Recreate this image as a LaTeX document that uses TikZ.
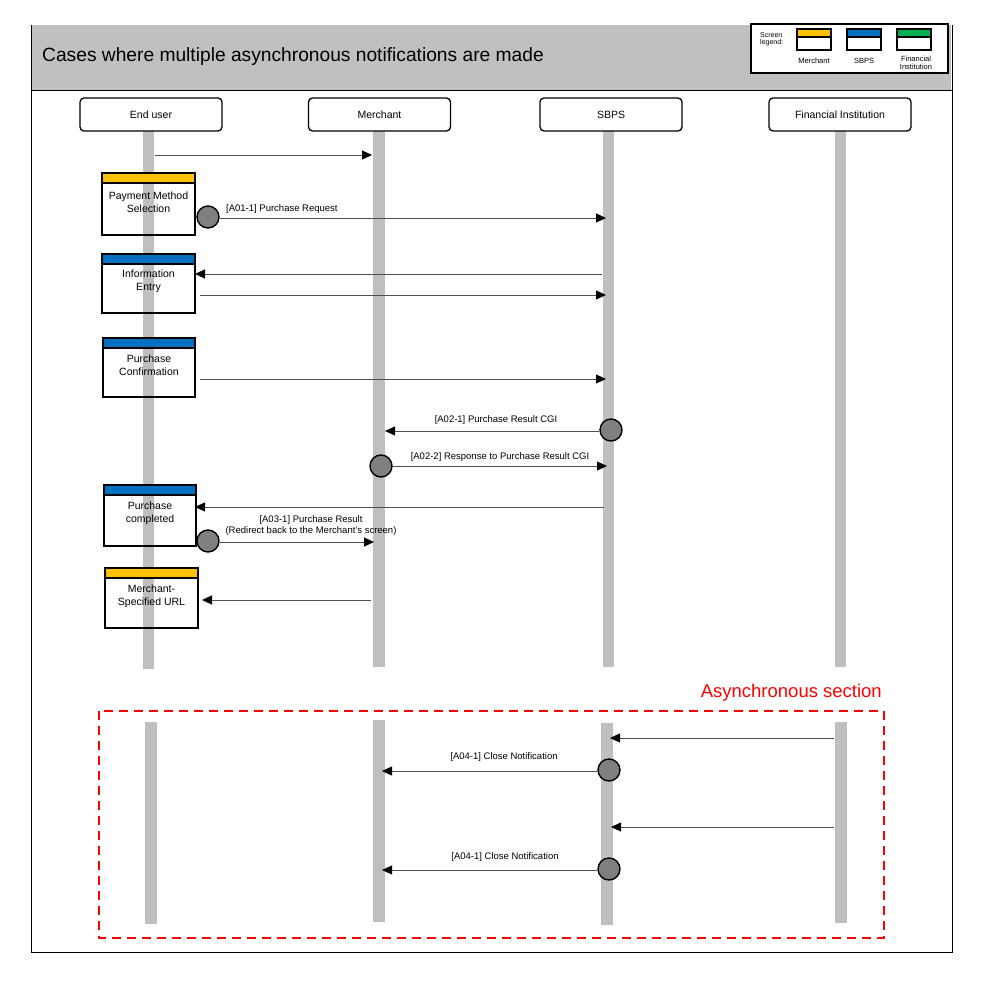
\documentclass[tikz,border=0pt]{standalone}
\usepackage{fontspec}
\setmainfont{Liberation Sans}
\usetikzlibrary{arrows.meta}
\definecolor{lifegray}{HTML}{BFBFBF}
\definecolor{hdrgray}{HTML}{C0C0C0}
\definecolor{dotgray}{HTML}{808080}
\definecolor{ylw}{HTML}{FFC000}
\definecolor{blu}{HTML}{0070C0}
\definecolor{grn}{HTML}{00B050}
\definecolor{linegray}{HTML}{505050}
\tikzset{
  actor/.style={draw=black, line width=1.3pt, rounded corners=4pt, fill=white, minimum width=142pt, minimum height=33pt, font=\fontsize{10.5}{12}\selectfont},
  life/.style={fill=lifegray, draw=none},
  screen/.style={draw=black, line width=1.6pt, fill=white},
  screentxt/.style={font=\fontsize{10.5}{13}\selectfont, align=center},
  msg/.style={draw=linegray, line width=0.8pt, -{Triangle[length=10pt,width=9pt,color=black]}},
  dot/.style={circle, draw=black, line width=1.4pt, fill=dotgray, minimum size=22pt, inner sep=0pt},
  lbl/.style={font=\fontsize{9.5}{11}\selectfont, inner sep=0pt},
}
\newcommand{\screenbox}[6]{% name x1 y1 x2 y2 color
  \fill[#6] (#2,#3) rectangle (#4,#3+10);
  \draw[screen, fill=none] (#2,#3) rectangle (#4,#5);
  \draw[line width=1.6pt] (#2,#3+10) -- (#4,#3+10);
  \coordinate (#1) at (#4,{(#3+#5)/2});
}
\begin{document}
\begin{tikzpicture}[x=1pt,y=-1pt]
\useasboundingbox (0,0) rectangle (993,1008);
% outer frame and header
\fill[hdrgray] (31,25) rectangle (951,90);
\draw[line width=1pt] (31,25) -- (31,952) -- (952,952) -- (952,25);
\draw[line width=0.8pt] (31,90) -- (952,90);
\node[anchor=west, font=\fontsize{19.2}{22}\selectfont, inner sep=0pt] (title) at (42,57) {Cases where multiple asynchronous notifications are made};
% legend
\draw[line width=1.6pt, fill=white] (751,24) rectangle (948,73);
\node[font=\fontsize{7}{7.5}\selectfont, align=left, anchor=north west, inner sep=0pt] (lg) at (760,32) {Screen\\legend:};
\foreach \x/\c in {797/ylw, 847/blu, 897/grn}{
  \fill[\c] (\x,29) rectangle (\x+34,37);
  \draw[line width=1.3pt] (\x,29) rectangle (\x+34,50);
  \draw[line width=1.3pt] (\x,37) -- (\x+34,37);
}
\node[font=\fontsize{7.5}{8}\selectfont, inner sep=0pt] (lgmt) at (814,61) {Merchant};
\node[font=\fontsize{7.5}{8}\selectfont, inner sep=0pt] (lgst) at (864,61) {SBPS};
\node[font=\fontsize{7.5}{8}\selectfont, inner sep=0pt, align=center] (lgft) at (916,62.5) {Financial\\Institution};
% lifelines upper
\fill[life] (143,131) rectangle (154,669);
\fill[life] (373,131) rectangle (385,667);
\fill[life] (603,131) rectangle (614,667);
\fill[life] (835,131) rectangle (846,667);
% lifelines lower
\fill[life] (145,722) rectangle (157,924);
\fill[life] (373,720) rectangle (385,922);
\fill[life] (601,723) rectangle (613,925);
\fill[life] (835,722) rectangle (847,923);
% actors
\node[actor] (eu) at (151,114.5) {End user};
\node[actor] (me) at (379.5,114.5) {Merchant};
\node[actor] (sb) at (611,114.5) {SBPS};
\node[actor] (fi) at (840,114.5) {Financial Institution};
% screens
\screenbox{s1}{102}{173}{195}{235}{ylw}
\node[screentxt] (s1t) at (148.5,202) {Payment Method\\Selection};
\screenbox{s2}{102}{254}{195}{313}{blu}
\node[screentxt] (s2t) at (148.5,281) {Information\\Entry};
\screenbox{s3}{103}{338}{195}{397}{blu}
\node[screentxt] (s3t) at (149,365) {Purchase\\Confirmation};
\screenbox{s4}{104}{485}{196}{546}{blu}
\node[screentxt] (s4t) at (150,513.5) {Purchase\\completed};
\screenbox{s5}{105}{568}{198}{628}{ylw}
\node[screentxt] (s5t) at (151.5,596.5) {Merchant-\\Specified URL};
% coordinates on lifelines
\coordinate (a0s) at (155,155);  \coordinate (a0e) at (372,155);
\coordinate (a1e) at (606,218);
\coordinate (a2s) at (602,274);  \coordinate (a2e) at (195,274);
\coordinate (a3s) at (200,295);  \coordinate (a3e) at (606,295);
\coordinate (a4s) at (200,379);  \coordinate (a4e) at (606,379);
\coordinate (a5e) at (385,431);
\coordinate (a6e) at (607,466);
\coordinate (a7s) at (604,507);  \coordinate (a7e) at (195,507);
\coordinate (a8e) at (374,542);
\coordinate (a9s) at (371,600);  \coordinate (a9e) at (202,600);
\coordinate (b1s) at (834,738);  \coordinate (b1e) at (610,738);
\coordinate (b2e) at (382,771);
\coordinate (b3s) at (834,827);  \coordinate (b3e) at (611,827);
\coordinate (b4e) at (382,870);
% dots
\node[dot] (d1) at (208,217) {};
\node[dot] (d2) at (611,430) {};
\node[dot] (d3) at (381,466) {};
\node[dot] (d4) at (208,541) {};
\node[dot] (d5) at (609,770) {};
\node[dot] (d6) at (609,869) {};
% messages
\draw[msg] (a0s) -- (a0e);
\draw[msg] (d1.east |- a1e) -- (a1e);
\draw[msg] (a2s) -- (a2e);
\draw[msg] (a3s) -- (a3e);
\draw[msg] (a4s) -- (a4e);
\draw[msg] (d2.west |- a5e) -- (a5e);
\draw[msg] (d3.east) -- (a6e);
\draw[msg] (a7s) -- (a7e);
\draw[msg] (d4.east |- a8e) -- (a8e);
\draw[msg] (a9s) -- (a9e);
\draw[msg] (b1s) -- (b1e);
\draw[msg] (d5.west |- b2e) -- (b2e);
\draw[msg] (b3s) -- (b3e);
\draw[msg] (d6.west |- b4e) -- (b4e);
% labels
\node[lbl, anchor=west] (l1) at (226,209) {[A01-1] Purchase Request};
\node[lbl] (l2) at (496,420) {[A02-1] Purchase Result CGI};
\node[lbl] (l3) at (500,457) {[A02-2] Response to Purchase Result CGI};
\node[lbl, align=center] (l4) at (311,526) {[A03-1] Purchase Result\\(Redirect back to the Merchant's screen)};
\node[lbl] (l5) at (504,757) {[A04-1] Close Notification};
\node[lbl] (l6) at (505,857) {[A04-1] Close Notification};
% async section
\node[font=\fontsize{18.5}{20}\selectfont, text=red, anchor=east, inner sep=0pt] (as) at (882,693) {Asynchronous section};
\draw[red, line width=1.8pt, dash pattern=on 9pt off 6pt] (99,711) rectangle (884,938);
\end{tikzpicture}
\end{document}
